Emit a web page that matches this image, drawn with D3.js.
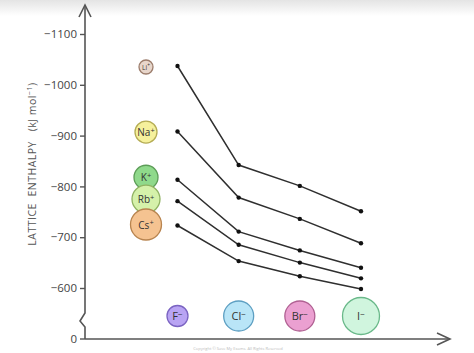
<!DOCTYPE html>
<html><head><meta charset="utf-8">
<script src="https://cdn.jsdelivr.net/npm/d3@7"></script>
<style>body{margin:0;background:#fff}svg{display:block}</style>
</head><body><svg id="c" width="474" height="353"></svg>
<script>
const anions = ["F⁻","Cl⁻","Br⁻","I⁻"];
const cations = ["Li⁺","Na⁺","K⁺","Rb⁺","Cs⁺"];
const Li = [-1037, -842, -801, -751];
const Na = [-908, -778, -736, -688];
const K  = [-813, -711, -674, -640];
const Rb = [-771, -685, -650, -619];
const Cs = [-723, -653, -623, -598];
const series = [Li, Na, K, Rb, Cs];
const cationLabelY = [-1035, -907, -818, -775, -725];
const cationR = [7, 11, 12, 14, 15.5];
const anionR = [10.5, 15, 15, 18.5];
const yTicks = [-1100, -1000, -900, -800, -700, -600];
const cationFill = ["#e8d6cb","#f6f19c","#8fd98b","#d5f1aa","#f5c391"];
const cationStroke = ["#9c7d6c","#b5ad55","#5c9c57","#8fb262","#b8844f"];
const anionFill = ["#b9a4f3","#b9e5f7","#eba0d1","#d0f5de"];
const anionStroke = ["#7b64c2","#5d9fc2","#b06092","#6ab98a"];

const svg = d3.select("#c");
const defs = svg.append("defs");
const g0 = defs.append("linearGradient").attr("id","tg").attr("x1",0).attr("y1",0).attr("x2",0).attr("y2",1);
g0.append("stop").attr("offset",0).attr("stop-color","#e4e4e4");
g0.append("stop").attr("offset",1).attr("stop-color","#ffffff");
svg.append("rect").attr("x",0).attr("y",0).attr("width",474).attr("height",16).attr("fill","url(#tg)");

const axisX = 85, axisY = 339;
const y = d3.scaleLinear().domain([-1100, -600]).range([34, 288]);
const x = d3.scalePoint().domain(anions).range([177.5, 361]);
const font = "'Open Sans', 'Liberation Sans', sans-serif";

// axes
const ax = svg.append("g").attr("stroke","#555").attr("fill","none").attr("stroke-width",1.6);
ax.append("path").attr("d", `M${axisX},${axisY} L${axisX},327 L${axisX-5},321 L${axisX},313 L${axisX},5`);
ax.append("path").attr("d", `M${axisX-6},17 L${axisX},5 L${axisX+6},17`);
ax.append("path").attr("d", `M${axisX},${axisY} L450,${axisY}`);
ax.append("path").attr("d", `M437,333 L450,${axisY} L437,345`);

// y ticks
const yAxis = d3.axisLeft(y).tickValues(yTicks).tickSize(5).tickPadding(3)
  .tickFormat(d => "−" + Math.abs(d));
const ya = svg.append("g").attr("transform", `translate(${axisX},0)`).call(yAxis);
ya.select(".domain").remove();
ya.selectAll("line").attr("stroke","#555").attr("stroke-width",1.4);
ya.selectAll("text").attr("fill","#444").style("font-family",font).style("font-size","11.5px");
// zero tick
const z = svg.append("g").attr("transform", `translate(${axisX},${axisY})`);
z.append("line").attr("x1",-5).attr("x2",0).attr("stroke","#555").attr("stroke-width",1.4);
z.append("text").attr("x",-8).attr("dy","0.32em").attr("text-anchor","end").attr("fill","#444")
  .style("font-family",font).style("font-size","11.5px").text("0");

// y title
svg.append("text").attr("transform","translate(36,164) rotate(-90)").attr("text-anchor","middle")
  .attr("fill","#555").style("font-family",font).style("font-size","10.5px").attr("letter-spacing","0.5")
  .html("LATTICE&#160;&#160;ENTHALPY&#160;&#160;&#160;(kJ mol<tspan dy='-4' font-size='7'>−1</tspan><tspan dy='4'>)</tspan>");

// lines
const line = d3.line().x((d,i) => x(anions[i])).y(d => y(d));
svg.append("g").selectAll("path").data(series).join("path")
  .attr("d", line).attr("fill","none").attr("stroke","#2f2f2f").attr("stroke-width",1.5);
series.forEach(s => {
  svg.append("g").selectAll("circle").data(s).join("circle")
    .attr("cx",(d,i)=>x(anions[i])).attr("cy",d=>y(d)).attr("r",2.2).attr("fill","#111");
});

function label(sel, sizeFn) {
  sel.each(function(d, i) {
    const t = d3.select(this);
    const fs = sizeFn(i);
    t.append("tspan").text(d.slice(0, -1));
    t.append("tspan").attr("dy", -fs*0.35).style("font-size", (fs*0.75)+"px")
      .text(d.slice(-1) === "⁺" ? "+" : "−");
  });
}

// cation circles
const cg = svg.append("g").selectAll("g").data(cations).join("g")
  .attr("transform",(d,i)=>`translate(146,${y(cationLabelY[i])})`);
cg.append("circle").attr("r",(d,i)=>cationR[i]).attr("fill",(d,i)=>cationFill[i])
  .attr("stroke",(d,i)=>cationStroke[i]).attr("stroke-width",1.3);
cg.append("text").attr("text-anchor","middle").attr("dy","0.4em").attr("fill","#333")
  .style("font-family",font).style("font-size",(d,i)=> i===0 ? "6.5px" : "10px")
  .call(label, i => i===0 ? 6.5 : 10);

// anion circles
const agp = svg.append("g").selectAll("g").data(anions).join("g")
  .attr("transform",(d)=>`translate(${x(d)},316)`);
agp.append("circle").attr("r",(d,i)=>anionR[i]).attr("fill",(d,i)=>anionFill[i])
  .attr("stroke",(d,i)=>anionStroke[i]).attr("stroke-width",1.3);
agp.append("text").attr("text-anchor","middle").attr("dy","0.4em").attr("fill","#333")
  .style("font-family",font).style("font-size","11px")
  .call(label, () => 11);

// watermark
svg.append("text").attr("x",238).attr("y",350).attr("text-anchor","middle").attr("fill","#bbb")
  .style("font-family",font).style("font-size","4px").text("Copyright © Save My Exams. All Rights Reserved");
</script></body></html>
